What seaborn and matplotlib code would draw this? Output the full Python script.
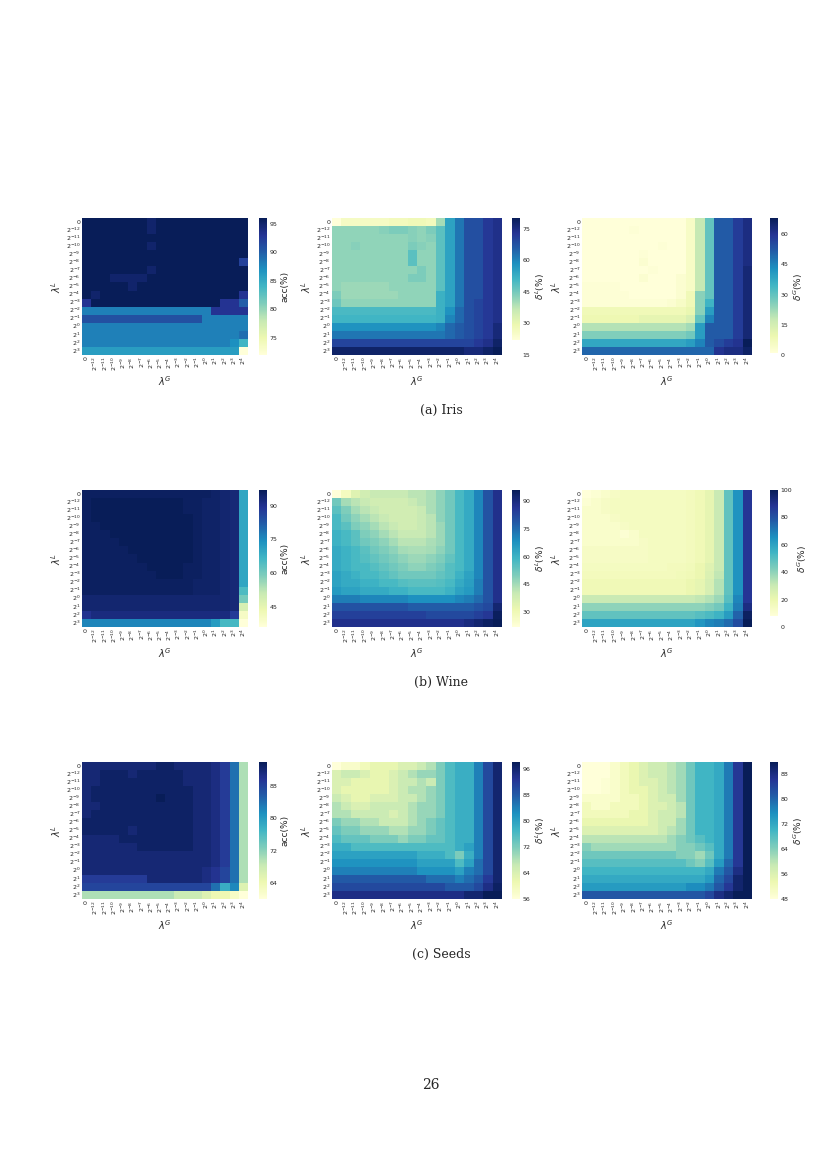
import numpy as np
import matplotlib
matplotlib.use('Agg')
import matplotlib.pyplot as plt
import seaborn as sns

sns.set_style('white')

# tick labels
lam_l = ['0'] + ['$2^{%d}$' % k for k in range(-12, 4)]   # 17 rows
lam_g = ['0'] + ['$2^{%d}$' % k for k in range(-12, 5)]   # 18 columns


def grid(rows):
    return np.array([[float(v) for v in r.split()] for r in rows])


# ---- (a) Iris ----
iris_acc = grid([
    '96 96 96 96 96 96 96 95 96 96 96 96 96 96 96 96 96 96',
    '96 96 96 96 96 96 96 95 96 96 96 96 96 96 96 96 96 96',
    '96 96 96 96 96 96 96 96 96 96 96 96 96 96 96 96 96 96',
    '96 96 96 96 96 96 96 95 96 96 96 96 96 96 96 96 96 96',
    '96 96 96 96 96 96 96 96 96 96 96 96 96 96 96 96 96 96',
    '96 96 96 96 96 96 96 96 96 96 96 96 96 96 96 96 96 92',
    '96 96 96 96 96 96 96 95 96 96 96 96 96 96 96 96 96 96',
    '96 96 96 95 95 95 95 96 96 96 96 96 96 96 96 96 96 96',
    '96 96 96 96 96 95 96 96 96 96 96 96 96 96 96 96 96 96',
    '96 95 96 96 96 96 96 96 96 96 96 96 96 96 96 96 96 93',
    '93 96 96 96 96 96 96 96 96 96 96 96 96 96 96 93 93 90',
    '88 88 88 88 88 88 88 88 88 88 88 88 88 88 93 93 93 93',
    '91 91 91 91 91 91 91 91 91 91 91 91 91 88 88 88 88 88',
    '88 88 88 88 88 88 88 88 88 88 88 88 88 88 88 88 88 88',
    '88 88 88 88 88 88 88 88 88 88 88 88 88 88 88 88 88 89',
    '88 88 88 88 88 88 88 88 88 88 88 88 88 88 88 88 87 84',
    '86 86 86 86 86 86 86 86 86 86 86 86 86 86 86 86 86 72',
])
iris_dl = grid([
    '22 26 26 26 26 26 27 27 28 28 27 40 55 62 68 68 72 74',
    '42 42 42 42 42 43 44 44 43 42 44 48 55 62 68 68 72 74',
    '42 42 42 42 42 42 42 42 43 42 43 48 55 62 68 68 72 74',
    '42 42 43 42 42 42 42 42 44 43 42 48 55 62 68 68 72 74',
    '42 42 42 42 42 42 42 42 48 42 42 48 55 62 68 68 72 74',
    '42 42 42 42 42 42 42 42 48 42 42 48 55 62 68 68 72 74',
    '42 42 42 42 42 42 42 42 42 44 42 48 55 62 68 68 72 74',
    '42 42 42 42 42 42 42 42 44 44 42 48 55 62 68 68 72 74',
    '42 41 41 41 41 41 42 42 42 42 42 48 55 62 68 68 72 74',
    '44 41 41 41 41 41 41 42 42 42 42 52 55 62 68 68 72 74',
    '46 42 42 42 42 42 42 42 42 42 42 52 55 62 68 70 72 74',
    '50 50 50 50 50 50 50 50 50 50 50 52 58 64 68 70 72 74',
    '51 51 51 51 51 51 51 51 51 51 51 52 60 64 68 70 72 74',
    '58 58 58 58 58 58 58 58 58 58 58 60 64 66 68 70 72 76',
    '62 62 62 62 62 62 62 62 62 62 62 62 64 66 68 70 72 76',
    '70 70 70 70 70 70 70 70 70 70 70 70 70 70 70 72 74 78',
    '78 78 78 78 78 78 78 78 78 78 78 78 78 78 76 76 78 80',
])
iris_dg = grid([
    '1 1 1 1 1 1 1 1 1 1 1 5 18 30 52 52 58 62',
    '1 1 1 1 1 2 1 1 1 1 1 5 18 30 52 52 58 62',
    '1 1 1 1 1 1 1 1 1 1 1 5 18 30 52 52 58 62',
    '1 1 1 1 1 1 1 1 2 1 1 5 18 30 52 52 58 62',
    '1 1 1 1 1 1 2 1 1 1 1 5 18 30 52 52 58 62',
    '1 1 1 1 1 1 3 1 1 1 1 5 18 30 52 52 58 62',
    '1 1 1 1 1 1 1 2 1 1 1 5 18 30 52 52 58 64',
    '1 1 1 1 1 1 3 1 1 1 3 5 18 30 52 52 58 64',
    '2 2 2 2 1 1 1 1 1 1 3 5 18 30 52 52 58 64',
    '2 2 2 2 2 1 1 1 1 1 3 8 25 30 52 52 58 64',
    '2 2 2 2 2 2 2 2 2 3 5 8 25 35 52 52 58 64',
    '8 8 8 8 8 8 8 8 8 8 8 10 25 40 52 52 58 64',
    '9 9 9 9 9 9 11 11 11 11 11 14 30 45 52 52 58 64',
    '20 20 20 20 20 20 20 20 20 20 20 22 40 52 52 52 58 64',
    '26 26 26 26 26 26 26 26 26 26 26 28 40 52 52 52 58 64',
    '38 38 38 38 38 38 38 38 38 38 38 40 45 52 55 58 60 68',
    '50 50 50 50 50 50 50 50 50 50 50 50 50 50 60 62 62 66',
])

# ---- (b) Wine ----
wine_acc = grid([
    '96 96 96 96 96 96 96 96 96 96 96 96 96 96 95 94 93 70',
    '96 97 97 97 97 97 97 97 97 97 97 96 96 95 95 94 93 70',
    '96 97 97 97 97 97 97 97 97 97 97 96 96 95 95 94 93 70',
    '96 97 97 97 97 97 97 97 97 97 97 97 96 95 95 94 93 70',
    '96 96 97 97 97 97 97 97 97 97 97 97 96 95 95 94 93 70',
    '96 96 96 97 97 97 97 97 97 97 97 97 96 95 95 94 93 70',
    '96 96 96 96 97 97 97 97 97 97 97 97 96 95 95 94 93 70',
    '96 96 96 96 96 97 97 97 97 97 97 97 96 95 95 94 93 70',
    '96 96 96 96 96 96 97 97 97 97 97 97 96 95 95 94 93 70',
    '96 96 96 96 96 96 96 97 97 97 97 96 96 95 95 94 93 70',
    '96 96 96 96 96 96 96 96 97 97 97 96 96 95 95 94 93 70',
    '96 96 96 96 96 96 96 96 96 96 96 96 95 95 95 94 93 70',
    '96 96 96 96 96 96 96 96 96 96 96 96 95 95 95 94 93 65',
    '94 94 94 94 94 94 94 94 94 94 94 94 94 94 94 94 93 60',
    '94 94 94 94 94 94 94 94 94 94 94 94 94 94 94 94 93 48',
    '90 92 92 92 92 92 92 92 92 92 92 92 92 92 92 92 88 40',
    '76 76 76 76 76 76 76 76 76 76 76 76 76 76 72 66 66 36',
])
wine_dl = grid([
    '22 28 35 38 40 40 40 40 42 42 44 48 52 58 62 70 80 88',
    '52 45 42 40 38 38 38 38 40 42 44 48 52 58 62 70 80 88',
    '55 50 45 42 40 38 38 38 38 40 44 48 52 58 62 70 80 88',
    '58 52 48 45 42 40 38 38 38 40 42 48 52 58 62 70 80 88',
    '58 55 50 48 45 42 40 38 38 40 42 46 52 58 62 70 80 88',
    '60 58 55 50 48 45 42 40 40 40 42 46 52 58 62 70 80 88',
    '60 58 55 52 50 48 45 42 42 42 44 46 52 58 62 70 80 88',
    '62 60 58 55 52 50 48 45 44 44 45 48 52 58 62 70 80 88',
    '62 60 58 56 54 52 50 48 46 46 48 50 54 58 62 70 80 88',
    '62 60 58 58 56 54 52 50 48 48 50 52 56 58 62 70 80 88',
    '64 62 60 58 58 56 54 52 52 52 52 54 56 60 64 70 80 88',
    '64 62 62 60 60 58 58 56 55 55 55 56 58 62 65 72 80 88',
    '66 64 64 62 62 62 60 60 58 58 58 58 60 64 66 72 80 88',
    '72 72 72 70 70 70 70 70 68 68 68 68 68 70 72 75 80 88',
    '80 80 80 80 80 80 80 80 78 78 78 78 78 78 78 80 82 92',
    '84 84 84 84 84 84 84 84 84 84 82 82 82 82 82 84 86 95',
    '88 88 88 88 88 88 88 88 88 88 88 88 88 88 90 92 94 96',
])
wine_dg = grid([
    '8 10 12 14 15 15 15 15 15 15 15 16 18 22 30 48 65 88',
    '10 12 14 15 15 15 15 15 15 15 15 16 18 22 30 48 65 88',
    '12 12 14 15 15 15 15 15 15 15 15 16 18 22 30 48 65 88',
    '12 12 12 14 15 15 15 15 15 15 15 16 18 22 30 48 65 88',
    '12 12 12 12 14 15 15 15 15 15 15 16 18 22 30 48 65 88',
    '12 12 12 12 10 12 15 15 15 15 15 16 18 22 30 48 65 88',
    '12 12 12 12 12 12 14 15 15 15 15 16 18 22 30 48 65 88',
    '14 14 14 14 14 14 14 15 15 15 15 16 18 22 30 48 65 88',
    '14 14 14 14 14 14 14 15 15 15 15 16 18 22 30 48 65 88',
    '15 15 15 15 15 15 15 15 15 16 16 17 20 24 30 48 65 88',
    '16 16 16 16 16 16 16 16 16 16 17 18 20 25 32 48 65 88',
    '18 18 18 18 18 18 18 18 18 18 18 20 22 26 34 48 65 88',
    '18 18 18 18 18 18 18 18 18 18 18 20 22 26 34 48 65 88',
    '30 30 30 30 30 30 30 30 30 30 30 30 32 34 38 50 68 88',
    '40 40 40 40 40 40 40 40 40 40 40 40 40 42 45 55 70 92',
    '48 48 48 48 48 48 48 48 48 48 48 48 50 52 55 62 76 98',
    '60 60 60 60 60 60 60 60 60 60 60 60 64 68 70 74 82 100',
])

# ---- (c) Seeds ----
seeds_acc = grid([
    '92 92 92 92 92 92 92 92 93 93 92 92 92 92 91 89 84 70',
    '92 92 93 93 93 92 93 93 93 93 93 92 92 92 91 89 84 70',
    '92 92 93 93 93 93 93 93 93 93 93 92 92 92 91 89 84 70',
    '92 93 93 93 93 93 93 93 93 93 93 93 92 92 91 89 84 70',
    '92 93 93 93 93 93 93 93 94 93 93 93 92 92 91 89 84 70',
    '92 92 93 93 93 93 93 93 93 93 93 93 92 92 91 89 84 70',
    '92 93 93 93 93 93 93 93 93 93 93 93 92 92 91 89 84 70',
    '93 93 93 93 93 93 93 93 93 93 93 93 92 92 91 89 84 70',
    '93 93 93 93 93 92 93 93 93 93 93 93 92 92 91 89 84 70',
    '92 92 92 92 93 93 93 93 93 93 93 93 92 92 91 89 84 70',
    '92 92 92 92 92 92 93 93 93 93 93 93 92 92 91 89 84 70',
    '92 92 92 92 92 92 92 92 92 92 92 92 92 92 91 89 84 70',
    '92 92 92 92 92 92 92 92 92 92 92 92 92 92 91 89 84 70',
    '92 92 92 92 92 92 92 92 92 92 92 92 92 91 90 88 84 70',
    '89 89 89 89 89 89 89 92 92 92 92 92 92 91 90 88 84 70',
    '88 88 88 88 88 88 88 88 88 88 88 88 88 88 84 78 82 66',
    '70 70 70 70 70 70 70 70 70 70 68 68 68 66 64 64 62 60',
])
seeds_dl = grid([
    '56 58 58 60 62 62 62 64 64 66 68 72 76 78 78 84 90 96',
    '64 66 66 64 62 62 64 66 68 70 70 72 76 78 78 84 90 96',
    '64 64 62 62 62 62 64 66 66 68 66 72 76 78 78 84 90 96',
    '64 62 62 62 62 62 64 66 68 68 70 72 76 78 78 84 90 96',
    '66 64 62 62 64 64 64 66 66 68 70 72 76 78 78 84 90 96',
    '68 66 64 64 66 66 66 66 68 70 70 72 76 78 78 84 90 96',
    '68 68 66 66 66 66 64 66 68 70 70 72 76 78 78 84 90 96',
    '72 70 70 68 68 66 66 66 68 70 72 74 76 78 78 84 90 96',
    '74 72 72 70 70 70 68 68 70 70 72 74 76 78 78 84 90 96',
    '76 74 74 74 72 72 72 70 72 72 74 74 76 78 78 84 90 96',
    '78 78 76 76 76 76 76 76 76 76 76 76 76 78 80 84 90 96',
    '80 80 80 80 80 80 80 80 80 78 78 78 76 72 78 84 90 96',
    '82 82 82 82 82 82 82 82 82 80 80 80 80 76 80 86 90 96',
    '84 84 84 84 84 84 84 84 84 82 82 82 82 80 84 86 90 96',
    '88 88 88 88 88 88 88 88 88 88 86 86 86 84 86 88 92 96',
    '90 90 90 90 90 90 90 90 90 90 90 90 88 88 88 90 94 97',
    '94 94 94 94 94 94 94 94 94 94 94 94 94 94 96 96 98 98',
])
seeds_dg = grid([
    '48 48 48 50 52 54 56 58 58 60 62 66 70 70 72 78 86 92',
    '48 48 48 50 52 54 56 58 58 60 62 66 70 70 72 78 86 92',
    '48 48 49 50 52 54 56 56 58 60 62 66 70 70 72 78 86 92',
    '48 48 49 50 52 54 54 56 58 60 62 66 70 70 72 78 86 92',
    '50 50 50 50 52 52 54 56 58 58 62 66 70 70 72 78 86 92',
    '52 50 50 52 52 52 54 56 56 58 60 66 70 70 72 78 86 92',
    '52 52 52 52 52 54 54 56 58 58 60 66 70 70 72 78 86 92',
    '54 54 54 54 54 54 54 56 58 58 62 66 70 70 72 78 86 92',
    '56 56 56 56 56 56 56 56 58 60 62 66 70 70 72 78 86 92',
    '60 60 60 60 60 60 60 60 60 62 64 66 68 70 72 78 86 92',
    '64 62 62 62 62 62 62 62 62 62 64 64 66 68 72 78 86 92',
    '66 66 66 66 66 66 66 66 66 66 64 64 62 66 72 78 86 92',
    '68 68 68 68 68 68 68 68 68 68 68 66 64 68 74 80 86 92',
    '70 70 70 70 70 70 70 70 70 70 70 70 70 72 78 82 88 92',
    '72 72 72 72 72 72 72 72 72 72 72 72 72 74 80 84 90 92',
    '74 74 74 74 74 74 74 74 74 74 74 76 76 78 82 86 90 92',
    '82 82 82 82 82 82 82 82 82 82 82 82 82 84 88 90 92 92',
])

panels = [
    [(iris_acc, 'acc(%)', [75, 80, 85, 90, 95]),
     (iris_dl, r'$\delta^L$(%)', [15, 30, 45, 60, 75]),
     (iris_dg, r'$\delta^G$(%)', [0, 15, 30, 45, 60])],
    [(wine_acc, 'acc(%)', [45, 60, 75, 90]),
     (wine_dl, r'$\delta^L$(%)', [30, 45, 60, 75, 90]),
     (wine_dg, r'$\delta^G$(%)', [0, 20, 40, 60, 80, 100])],
    [(seeds_acc, 'acc(%)', [64, 72, 80, 88]),
     (seeds_dl, r'$\delta^L$(%)', [56, 64, 72, 80, 88, 96]),
     (seeds_dg, r'$\delta^G$(%)', [48, 56, 64, 72, 80, 88])],
]
captions = ['(a) Iris', '(b) Wine', '(c) Seeds']

W, H = 827, 1169
fig = plt.figure(figsize=(8.27, 11.69), dpi=100)

col_x = [(82, 248, 259), (332, 502, 512), (582, 752, 770)]
row_y = [218, 490, 762]
hm_h = 137

for r, row in enumerate(panels):
    y0 = row_y[r]
    for c, (data, label, ticks) in enumerate(row):
        x0, x1, cx = col_x[c]
        ax = fig.add_axes([x0 / W, 1 - (y0 + hm_h) / H, (x1 - x0) / W, hm_h / H])
        cax = fig.add_axes([cx / W, 1 - (y0 + hm_h) / H, 8 / W, hm_h / H])
        sns.heatmap(data, ax=ax, cbar_ax=cax, cmap='YlGnBu',
                    xticklabels=lam_g, yticklabels=lam_l)
        ax.tick_params(axis='both', length=0, labelsize=4.5, pad=1)
        ax.set_xticklabels(lam_g, rotation=90, fontsize=4.5)
        ax.set_yticklabels(lam_l, rotation=0, fontsize=4.5)
        ax.set_xlabel(r'$\lambda^G$', fontsize=7, labelpad=2)
        ax.set_ylabel(r'$\lambda^L$', fontsize=7, labelpad=2)
        cax.set_yticks(ticks)
        cax.tick_params(labelsize=4.5, length=0, pad=2)
        cax.set_ylabel(label, fontsize=6.5, labelpad=2)
    fig.text(441 / W, 1 - (y0 + 192) / H, captions[r], ha='center', va='center',
             fontsize=9, family='DejaVu Serif')

fig.text(431 / W, 1 - 1085 / H, '26', ha='center', va='center',
         fontsize=10, family='DejaVu Serif')

fig.savefig('out.png', dpi=100)
